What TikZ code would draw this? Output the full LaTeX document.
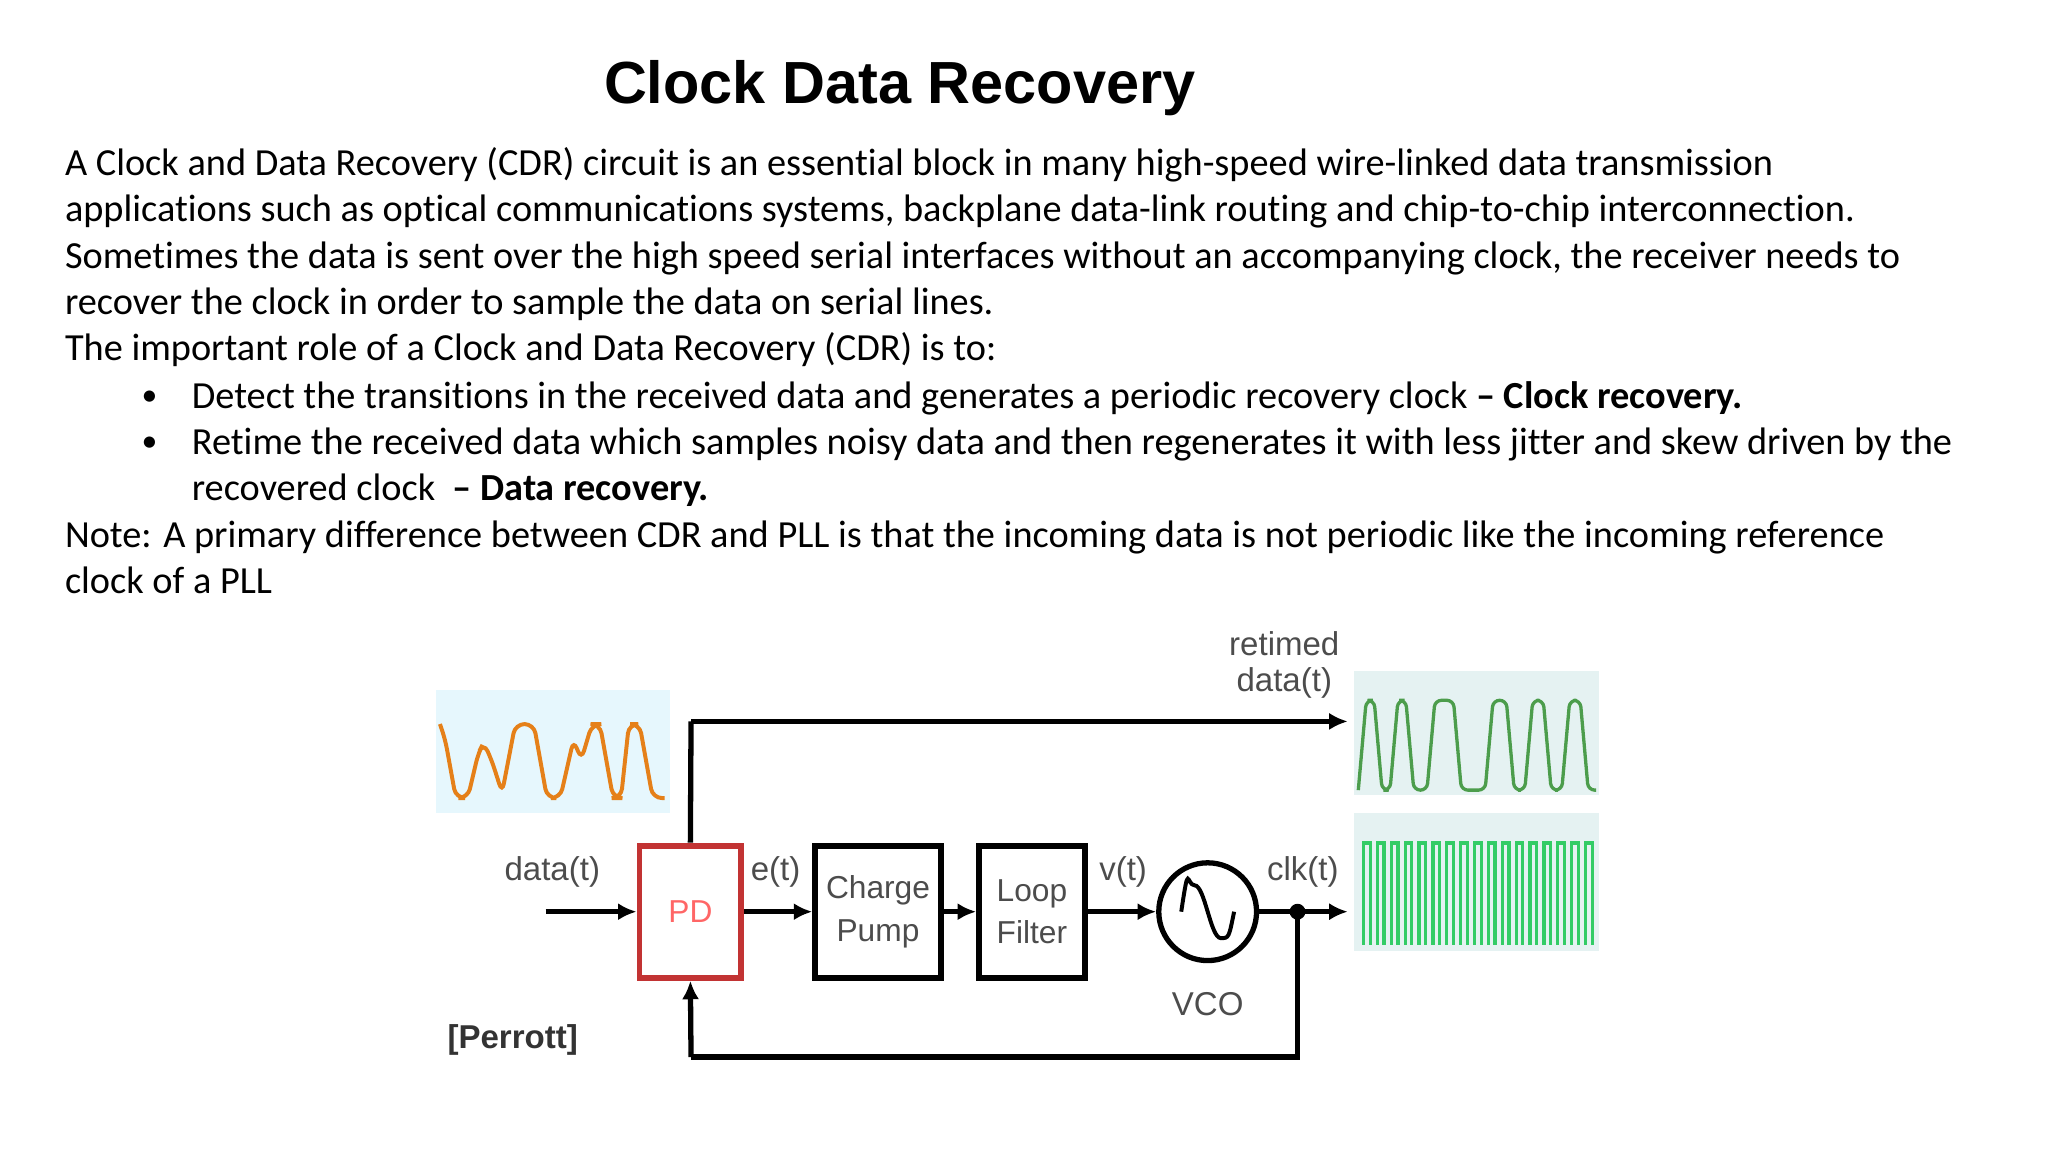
\documentclass[tikz,border=0pt]{standalone}
\usepackage{fontspec}
\setmainfont[Ligatures=NoCommon]{Carlito}
\newfontfamily\arialf{Liberation Sans}
\usetikzlibrary{arrows.meta}
\begin{document}
\begin{tikzpicture}[x=1pt,y=-1pt,
  body/.style={anchor=base west,inner sep=0pt,font=\fontsize{29}{34}\selectfont},
  blk/.style={draw,line width=4.5pt,minimum width=#1,minimum height=100pt,inner sep=0pt,align=center,font=\arialf\fontsize{24}{32}\selectfont,text=black!70},
  lbl/.style={font=\arialf\fontsize{25}{27}\selectfont,text=black!70,inner sep=0pt,align=center},
  wire/.style={line width=4pt},
  arr/.style={wire,-{Latex[length=14pt,width=13pt]}}]
\useasboundingbox (0,0) rectangle (1550,872);
\node[anchor=center,font=\arialf\bfseries\fontsize{45}{48}\selectfont] (title) at (681,67) {Clock Data Recovery};
\node[body] (l1) at (49,133) {A Clock and Data Recovery (CDR) circuit is an essential block in many high-speed wire-linked data transmission};
\node[body] (l2) at (49,168) {applications such as optical communications systems, backplane data-link routing and chip-to-chip interconnection.};
\node[body] (l3) at (49,203) {Sometimes the data is sent over the high speed serial interfaces without an accompanying clock, the receiver needs to};
\node[body] (l4) at (49,238) {recover the clock in order to sample the data on serial lines.};
\node[body] (l5) at (49,273) {The important role of a Clock and Data Recovery (CDR) is to:};
\node[body,font=\fontsize{24}{34}\selectfont] (b1) at (107,307) {•};
\node[body] (l6) at (145,309) {Detect the transitions in the received data and generates a periodic recovery clock \textbf{– Clock recovery.}};
\node[body,font=\fontsize{24}{34}\selectfont] (b2) at (107,342) {•};
\node[body] (l7) at (145,344) {Retime the received data which samples noisy data and then regenerates it with less jitter and skew driven by the};
\node[body] (l8) at (145,379) {recovered clock\ \ \textbf{– Data recovery.}};
\node[body] (l9) at (49,414) {Note: A primary difference between CDR and PLL is that the incoming data is not periodic like the incoming reference};
\node[body] (l10) at (49,449) {clock of a PLL};
% waveform panels
\fill[cyan!10] (330,522) rectangle (507,615);
\fill[teal!10] (1025,508) rectangle (1210,602);
\fill[teal!10] (1025,615) rectangle (1210,720);
\draw[orange!60!brown,line width=3pt,rounded corners=7pt] (333,548) -- (337,560) -- (345,604) -- (354,604) -- (362,570) -- (366,562) -- (372,575) -- (380,600) -- (390,548) -- (404,548) -- (414,604) -- (424,604) -- (434,560) -- (440,575) -- (448,548) -- (454,548) -- (464,604) -- (470,604) -- (476,548) -- (484,548) -- (494,604) -- (503,604);
\draw[green!45!black!70,line width=2.5pt,rounded corners=5pt] (1028,598) -- (1034,530) -- (1040,530) -- (1046,598) -- (1052,598) -- (1058,530) -- (1064,530) -- (1070,598) -- (1080,598) -- (1086,530) -- (1100,530) -- (1106,598) -- (1124,598) -- (1130,530) -- (1140,530) -- (1146,598) -- (1154,598) -- (1160,530) -- (1168,530) -- (1174,598) -- (1182,598) -- (1188,530) -- (1196,530) -- (1202,598) -- (1208,598);
\foreach \i in {0,...,16} {
  \draw[green!50!teal!80,line width=2.5pt] ({1032+\i*10.5},715) -- ({1032+\i*10.5},638) -- ({1037+\i*10.5},638) -- ({1037+\i*10.5},715);
}
% blocks
\node[blk=77pt,draw=red!70!black!80,text=red!60] (pd) at (522.5,690) {PD};
\node[blk=95pt] (cp) at (664.5,690) {Charge\\Pump};
\node[blk=80pt] (lf) at (781,690) {Loop\\Filter};
\node[draw,circle,line width=4pt,minimum size=74pt,inner sep=0pt] (vco) at (914,690) {};
\draw[line width=3pt] (vco.center) ++(-20,0) .. controls +(6,-40) and +(-6,0) .. ++(10,-20) .. controls +(8,0) and +(-8,0) .. ++(20,40) .. controls +(6,0) and +(-4,20) .. ++(10,-20);
\node[lbl] (vcol) at (914,760) {VCO};
\coordinate (din) at (413,690);
\coordinate (dot) at (982,690);
\coordinate (cout) at (1020,690);
\coordinate (rout) at (1020,546);
\coordinate (fb1) at (982,800);
\coordinate (fb2) at (523,800);
\coordinate (up) at (523,546);
\draw[arr] (din) -- (pd.west);
\draw[arr] (pd.east) -- (cp.west);
\draw[arr] (cp.east) -- (lf.west);
\draw[arr] (lf.east) -- (vco.west);
\draw[arr] (vco.east) -- (cout);
\fill (dot) circle (6pt);
\draw[wire] (dot) -- (fb1) -- (fb2);
\draw[arr] (fb2) -- (pd.south);
\draw[wire] (pd.north) -- (up);
\draw[arr] (up) -- (rout);
\node[lbl] (dl) at (418,660) {data(t)};
\node[lbl] (el) at (587,660) {e(t)};
\node[lbl] (vl) at (850,660) {v(t)};
\node[lbl] (cl) at (986,660) {clk(t)};
\node[lbl] (rl) at (972,503) {retimed\\data(t)};
\node[lbl,font=\arialf\bfseries\fontsize{25}{27}\selectfont,text=black!80] (per) at (388,787) {[Perrott]};
\end{tikzpicture}
\end{document}
